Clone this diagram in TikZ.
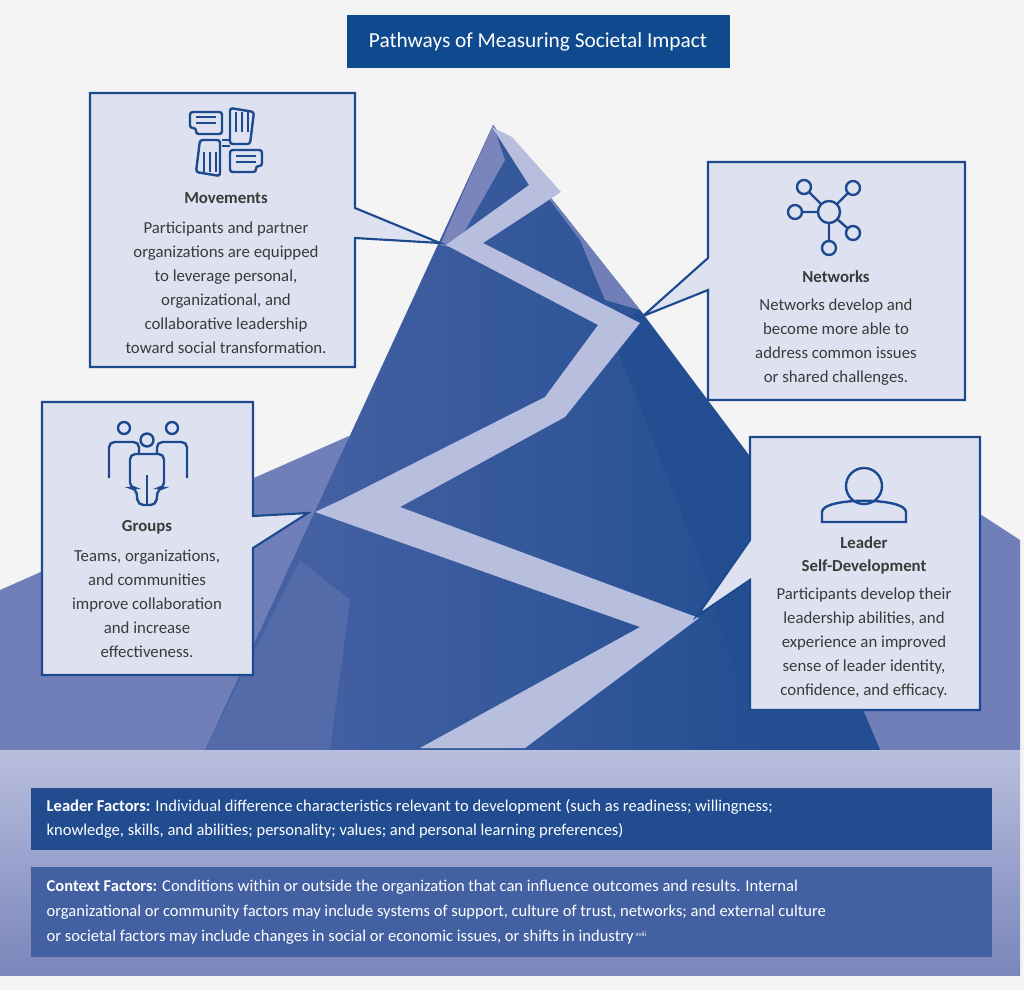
\documentclass[tikz,border=0pt]{standalone}
\usepackage{fontspec}
\setmainfont{Carlito}
\begin{document}
\begin{tikzpicture}[x=0.75pt,y=-0.75pt,
  call/.style={fill=boxfill,draw=boxline,line width=1.6pt,line join=miter},
  body/.style={text=txt,align=center,font=\fontsize{12.6}{18}\selectfont},
  ttl/.style={text=txt,align=center,font=\fontsize{12.6}{17.3}\selectfont\bfseries},
  icon/.style={draw=boxline,line width=1.8pt,fill=none},
  fact/.style={text=white,align=left,anchor=north west,font=\fontsize{12.4}{17.5}\selectfont}]
\definecolor{bg}{HTML}{F4F4F5}
\definecolor{boxfill}{HTML}{DEE2F0}
\definecolor{boxline}{HTML}{1D4A8E}
\definecolor{txt}{HTML}{3A3A3A}
\definecolor{mtA}{HTML}{4A64A6}
\definecolor{mtB}{HTML}{1C4A8E}
\definecolor{facet}{HTML}{7A86BB}
\definecolor{pathc}{HTML}{B8BEDD}
\definecolor{titlec}{HTML}{0F4A8E}
\useasboundingbox (0,0) rectangle (1024,990);
\fill[bg] (0,0) rectangle (1024,990);
% hills
\fill[facet!80!mtA] (0,750) -- (0,590) -- (349,436) -- (300,750) -- cycle;
\fill[facet!80!mtA] (700,750) -- (760,470) -- (940,488) -- (1020,540) -- (1020,750) -- cycle;
% main mountain
\shade[left color=mtA, right color=mtB] (493,125) -- (205,750) -- (880,750) -- (760,470) -- (640,310) -- cycle;
\fill[facet] (493,125) -- (440,245) -- (455,248) -- (505,160) -- cycle;
\fill[facet!80!mtA] (493,125) -- (580,240) -- (605,300) -- (640,310) -- cycle;
\fill[mtB!85!mtA] (610,330) -- (700,560) -- (760,750) -- (880,750) -- (760,470) -- (640,310) -- cycle;
\fill[mtA!80!facet] (300,560) -- (205,750) -- (330,750) -- (350,600) -- cycle;
% path
\fill[pathc] (492,127) -- (529,185) -- (446,245) -- (598,325) -- (545,397) -- (341,500) -- (315,512) -- (640,627) -- (420,748)
  -- (525,748) -- (699,618) -- (400,507) -- (565,417) -- (640,323) -- (483,243) -- (561,192) -- (512,137) -- cycle;
% bottom band
\shade[top color=pathc, bottom color=facet] (0,750) rectangle (1020,975);
\fill[boxline!90!mtA] (31,788) rectangle (992,850);
\fill[mtA!85!boxline] (31,867) rectangle (992,957);
% title
\fill[titlec] (347,15) rectangle (730,68);
\node[text=white,font=\fontsize{16}{18}\selectfont] (title) at (538,42) {Pathways of Measuring Societal Impact};
% callouts
\draw[call] (90,93) -- (355,93) -- (355,208) -- (440,243) -- (355,238) -- (355,367) -- (90,367) -- cycle;
\draw[call] (708,162) -- (965,162) -- (965,400) -- (708,400) -- (708,290) -- (643,316) -- (708,258) -- cycle;
\draw[call] (42,402) -- (253,402) -- (253,516) -- (308,513) -- (253,548) -- (253,675) -- (42,675) -- cycle;
\draw[call] (750,437) -- (980,437) -- (980,710) -- (750,710) -- (750,580) -- (697,616) -- (750,540) -- cycle;
% icons: movements (hands pinwheel)
\begin{scope}[icon,rounded corners=2pt]
 % top-left hand pointing right
 \draw (190,112) -- (222,112) -- (222,134) -- (196,134) -- (196,128) -- (190,128) -- cycle;
 \draw (196,117) -- (216,117) (196,123) -- (216,123);
 % top-right hand pointing up
 \draw (230,108) -- (230,144) -- (250,144) -- (254,112) -- cycle;
 \draw (236,112) -- (236,132) (242,112) -- (242,132) (248,112) -- (248,132);
 % bottom-right hand pointing left
 \draw (262,150) -- (230,150) -- (230,172) -- (256,172) -- (256,166) -- (262,166) -- cycle;
 \draw (236,156) -- (256,156) (236,162) -- (256,162);
 % bottom-left hand pointing down
 \draw (220,176) -- (220,140) -- (200,140) -- (196,172) -- cycle;
 \draw (204,152) -- (204,172) (210,152) -- (210,172) (216,152) -- (216,172);
 \draw (222,140) -- (230,140) (222,146) -- (230,146);
\end{scope}
% networks
\begin{scope}[icon]
 \draw (804,187) -- (829,212) -- (853,188) (795,212) -- (829,212) -- (853,233) (829,212) -- (829,248);
 \filldraw[fill=boxfill] (829,212) circle (11);
 \foreach \p in {(804,187),(853,188),(795,212),(853,233),(829,248)} \filldraw[fill=boxfill] \p circle (7);
\end{scope}
% groups
\begin{scope}[icon]
 \foreach \cx/\cy in {124/428,172/428} {
  \draw (\cx,\cy) circle (6);
  \draw[rounded corners=4pt] (\cx-15,\cy+50) -- (\cx-15,\cy+14) -- (\cx+15,\cy+14) -- (\cx+15,\cy+50);
 }
 \filldraw[fill=boxfill] (147,440) circle (6.5);
 \filldraw[fill=boxfill,rounded corners=4pt] (130,488) -- (130,454) -- (164,454) -- (164,488) -- (158,488) -- (156,505) -- (138,505) -- (136,488) -- cycle;
 \draw (147,475) -- (147,505);
\end{scope}
% leader
\begin{scope}[icon]
 \draw (864,486) circle (18);
 \draw (822,522) -- (822,512) .. controls (822,497) and (906,497) .. (906,512) -- (906,522) -- cycle;
\end{scope}
% texts
\node[ttl] (movT) at (226,198) {Movements};
\node[body] (movB) at (226,288) {Participants and partner\\organizations are equipped\\to leverage personal,\\organizational, and\\collaborative leadership\\toward social transformation.};
\node[ttl] (netT) at (836,277) {Networks};
\node[body] (netB) at (836,342) {Networks develop and\\become more able to\\address common issues\\or shared challenges.};
\node[ttl] (grpT) at (147,527) {Groups};
\node[body] (grpB) at (147,604) {Teams, organizations,\\and communities\\improve collaboration\\and increase\\effectiveness.};
\node[ttl] (ldrT) at (864,555) {Leader\\Self-Development};
\node[body] (ldrB) at (864,643) {Participants develop their\\leadership abilities, and\\experience an improved\\sense of leader identity,\\confidence, and efficacy.};
\node[fact] (lf) at (42,795) {\textbf{Leader Factors:} Individual difference characteristics relevant to development (such as readiness; willingness;\\knowledge, skills, and abilities; personality; values; and personal learning preferences)};
\node[fact,font=\fontsize{12.4}{19}\selectfont] (cf) at (42,875) {\textbf{Context Factors:} Conditions within or outside the organization that can influence outcomes and results. Internal\\organizational or community factors may include systems of support, culture of trust, networks; and external culture\\or societal factors may include changes in social or economic issues, or shifts in industry\textsuperscript{\,\tiny xviii}};
\end{tikzpicture}
\end{document}
